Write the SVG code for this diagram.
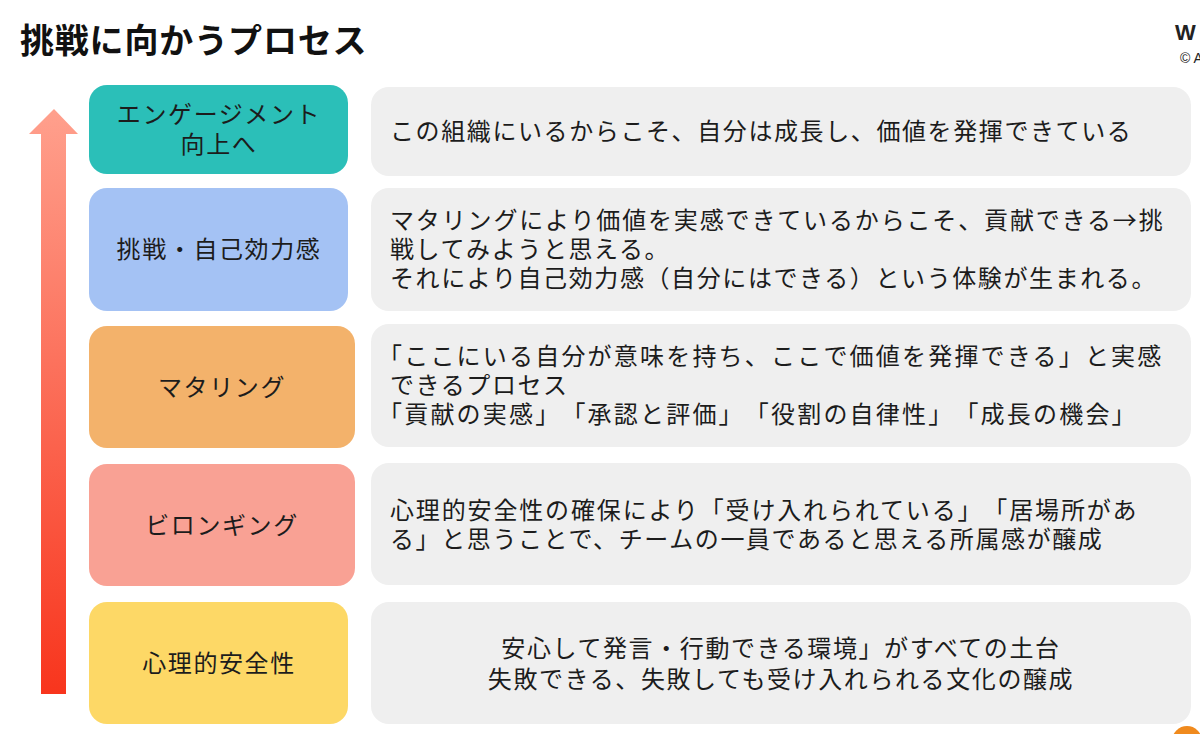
<svg xmlns="http://www.w3.org/2000/svg" width="1200" height="734" viewBox="0 0 1200 734">
<defs>
<linearGradient id="arrowGrad" x1="0" y1="0" x2="0" y2="1">
<stop offset="0" stop-color="#ffa08d"/>
<stop offset="1" stop-color="#f8351d"/>
</linearGradient>
<style>
text{font-family:"Noto Sans CJK JP","Noto Sans CJK SC",sans-serif;fill:#1c1c1c;text-spacing-trim:space-all;}
.t{font-size:24px;letter-spacing:1.6px;}
.w{letter-spacing:2.2px;}
.m{letter-spacing:1.85px;}
.c{text-anchor:middle;}
.title{font-size:34px;font-weight:bold;letter-spacing:0.8px;fill:#111;}
.desc{fill:#efefef;}
.logo{font-family:"Liberation Sans",sans-serif;fill:#222;}
</style>
</defs>
<rect width="1200" height="734" fill="#ffffff"/>
<text class="title" x="20" y="53">挑戦に向かうプロセス</text>
<text class="logo" x="1175" y="40" style="font-size:22px;font-weight:bold">W</text>
<text class="logo" x="1180" y="63" style="font-size:14px">© A</text>
<circle cx="1187" cy="741" r="15" fill="#f08a1d"/>

<g id="progress-arrow">
<path d="M41,694 L41,134 L29,134 L54,109 L78,134 L66,134 L66,694 Z" fill="url(#arrowGrad)"/>
</g>

<g id="engagement">
<rect x="89" y="85" width="259" height="89" rx="18" fill="#2bbfb8"/>
<text class="t c" x="219" y="123">エンゲージメント</text>
<text class="t c" x="219" y="153">向上へ</text>
</g>
<g id="engagement-desc">
<rect class="desc" x="371" y="87" width="820" height="89" rx="18"/>
<text class="t" x="390" y="140">この組織にいるからこそ、自分は成長し、価値を発揮できている</text>
</g>

<g id="challenge">
<rect x="89" y="188" width="259" height="123" rx="18" fill="#a4c2f4"/>
<text class="t c" x="219" y="258">挑戦・自己効力感</text>
</g>
<g id="challenge-desc">
<rect class="desc" x="371" y="188" width="820" height="123" rx="18"/>
<text class="t m" x="390" y="229">マタリングにより価値を実感できているからこそ、貢献できる→挑</text>
<text class="t" x="390" y="258">戦してみようと思える。</text>
<text class="t" x="390" y="287">それにより自己効力感（自分にはできる）という体験が生まれる。</text>
</g>

<g id="mattering">
<rect x="89" y="326" width="266" height="122" rx="18" fill="#f3b26b"/>
<text class="t c" x="222" y="396">マタリング</text>
</g>
<g id="mattering-desc">
<rect class="desc" x="371" y="324" width="820" height="123" rx="18"/>
<text class="t w" x="378" y="365">「ここにいる自分が意味を持ち、ここで価値を発揮できる」と実感</text>
<text class="t" x="390" y="394">できるプロセス</text>
<text class="t w" x="378" y="423">「貢献の実感」「承認と評価」「役割の自律性」「成長の機会」</text>
</g>

<g id="belonging">
<rect x="89" y="464" width="266" height="122" rx="18" fill="#f9a194"/>
<text class="t c" x="222" y="534">ビロンギング</text>
</g>
<g id="belonging-desc">
<rect class="desc" x="371" y="463" width="820" height="122" rx="18"/>
<text class="t m" x="390" y="519">心理的安全性の確保により「受け入れられている」「居場所があ</text>
<text class="t" x="390" y="548">る」と思うことで、チームの一員であると思える所属感が醸成</text>
</g>

<g id="psych-safety">
<rect x="89" y="602" width="259" height="122" rx="18" fill="#fdd866"/>
<text class="t c" x="219" y="672">心理的安全性</text>
</g>
<g id="psych-safety-desc">
<rect class="desc" x="371" y="602" width="820" height="122" rx="18"/>
<text class="t c" x="781" y="657">安心して発言・行動できる環境」がすべての土台</text>
<text class="t c" x="781" y="688">失敗できる、失敗しても受け入れられる文化の醸成</text>
</g>
</svg>
